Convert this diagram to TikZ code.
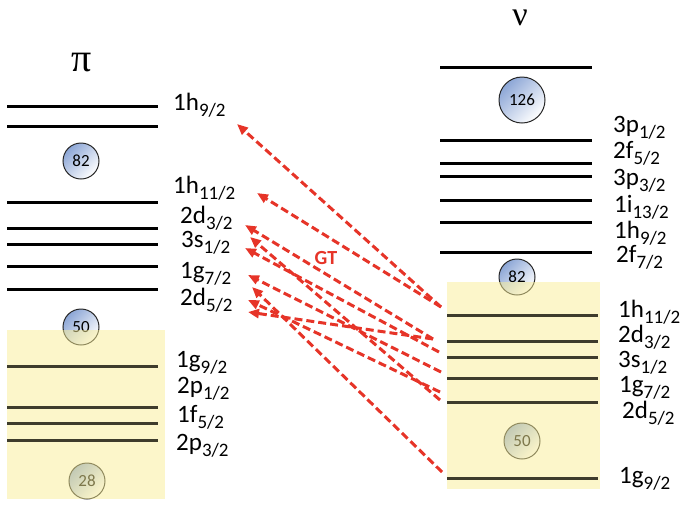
\documentclass[tikz,border=0pt]{standalone}
\usepackage{fontspec}
\setmainfont{Carlito}
\newfontfamily\greekfont{Liberation Serif}
\usetikzlibrary{arrows.meta}
\definecolor{gtred}{RGB}{230,52,40}
\definecolor{shellbg}{RGB}{250,238,150}
\definecolor{ballblue}{RGB}{140,166,214}
\definecolor{lvldark}{RGB}{62,60,44}
\newcommand{\orbl}[2]{#1\raisebox{-6.5pt}{\fontsize{19}{19}\selectfont #2}}

\begin{document}
\begin{tikzpicture}[x=1pt,y=-1pt,>={Triangle[length=11pt,width=9pt]}]
\tikzset{lvl/.style={line width=3pt,draw=black},core/.style={lvl,draw=lvldark},
  orb/.style={anchor=base west,inner sep=0pt,font=\fontsize{25}{25}\selectfont},
  magic/.style={circle,draw=black!85,line width=1pt,inner sep=0pt,minimum size=36pt,font=\fontsize{17}{17}\selectfont,top color=ballblue,bottom color=white,shading angle=45},
  shell/.style={fill=shellbg,fill opacity=0.5},
  gtarr/.style={->,draw=gtred,line width=3pt,dash pattern=on 8pt off 4pt}}
\useasboundingbox (0,0) rectangle (685,507);
% titles
\node[font=\greekfont\fontsize{40}{40}\selectfont] (pi) at (82,63) {π};
\node[font=\greekfont\fontsize{34}{34}\selectfont] (nu) at (520,18) {ν};
% magic numbers
\node[magic] (p82) at (81,161) {82};
\node[magic] (p50) at (81,327) {50};
\node[magic] (p28) at (87,481) {28};
\node[magic,minimum size=46pt] (n126) at (522,100) {126};
\node[magic] (n82) at (517,277) {82};
\node[magic] (n50) at (522,441) {50};
% filled cores
\fill[shell] (7,330) rectangle (165,499);
\fill[shell] (447,282) rectangle (600,489);
% proton levels
\draw[lvl] (7,106)--(158,106); \draw[lvl] (7,126)--(158,126); \draw[lvl] (7,202)--(158,202);
\draw[lvl] (7,228)--(158,228); \draw[lvl] (7,244)--(158,244); \draw[lvl] (7,266)--(158,266);
\draw[lvl] (7,289)--(158,289);
\draw[core] (7,366)--(158,366); \draw[core] (7,407)--(158,407); \draw[core] (7,423)--(158,423);
\draw[core] (7,440)--(158,440);
% neutron levels
\draw[lvl] (440,67)--(592,67); \draw[lvl] (440,140)--(592,140); \draw[lvl] (440,163)--(592,163);
\draw[lvl] (440,176)--(592,176); \draw[lvl] (440,200)--(592,200); \draw[lvl] (440,222)--(592,222);
\draw[lvl] (440,252)--(592,252);
\draw[core] (447,315)--(598,315); \draw[core] (447,341)--(598,341); \draw[core] (447,357)--(598,357);
\draw[core] (447,378)--(598,378); \draw[core] (447,402)--(598,402); \draw[core] (447,478)--(598,478);
% proton orbitals
\node[orb] (p1h9) at (173,110) {\orbl{1h}{9/2}};
\node[orb] (p1h11) at (173,193) {\orbl{1h}{11/2}};
\node[orb] (p2d3) at (180,223) {\orbl{2d}{3/2}};
\node[orb] (p3s1) at (181,247) {\orbl{3s}{1/2}};
\node[orb] (p1g7) at (180,278) {\orbl{1g}{7/2}};
\node[orb] (p2d5) at (180,305) {\orbl{2d}{5/2}};
\node[orb] (p1g9) at (176,367) {\orbl{1g}{9/2}};
\node[orb] (p2p1) at (177,393) {\orbl{2p}{1/2}};
\node[orb] (p1f5) at (177,422) {\orbl{1f}{5/2}};
\node[orb] (p2p3) at (176,450) {\orbl{2p}{3/2}};
% neutron orbitals
\node[orb] (n3p1) at (613,132) {\orbl{3p}{1/2}};
\node[orb] (n2f5) at (613,158) {\orbl{2f}{5/2}};
\node[orb] (n3p3) at (613,185) {\orbl{3p}{3/2}};
\node[orb] (n1i13) at (614,212) {\orbl{1i}{13/2}};
\node[orb] (n1h9) at (614,238) {\orbl{1h}{9/2}};
\node[orb] (n2f7) at (616,262) {\orbl{2f}{7/2}};
\node[orb] (n1h11) at (618,317) {\orbl{1h}{11/2}};
\node[orb] (n2d3) at (618,342) {\orbl{2d}{3/2}};
\node[orb] (n3s1) at (618,367) {\orbl{3s}{1/2}};
\node[orb] (n1g7) at (619,392) {\orbl{1g}{7/2}};
\node[orb] (n2d5) at (622,418) {\orbl{2d}{5/2}};
\node[orb] (n1g9) at (619,483) {\orbl{1g}{9/2}};
% GT transitions
\coordinate (th9) at (237,124); \coordinate (th11) at (257,193);
\coordinate (td3a) at (245,225); \coordinate (td3b) at (250,237); \coordinate (ts1) at (245,248);
\coordinate (tg7a) at (248,275); \coordinate (tg7b) at (252,287);
\coordinate (td5a) at (248,300); \coordinate (td5b) at (248,312);
\coordinate (fh11) at (441,307); \coordinate (fd3) at (433,339); \coordinate (fs1) at (439,352);
\coordinate (fg7) at (441,372); \coordinate (fd5a) at (440,392); \coordinate (fd5b) at (440,400);
\coordinate (fg9) at (442,472);
\draw[gtarr] (fh11)--(th9); \draw[gtarr] (fh11)--(th11);
\draw[gtarr] (fd3)--(td3a); \draw[gtarr] (fd3)--(td5b); \draw[gtarr] (fs1)--(ts1);
\draw[gtarr] (fg7)--(tg7a); \draw[gtarr] (fd5a)--(td5a); \draw[gtarr] (fd5b)--(td3b);
\draw[gtarr] (fg9)--(tg7b);
\node[font=\bfseries\fontsize{20}{20}\selectfont,text=gtred] (gtlbl) at (326,258) {GT};
\end{tikzpicture}
\end{document}
